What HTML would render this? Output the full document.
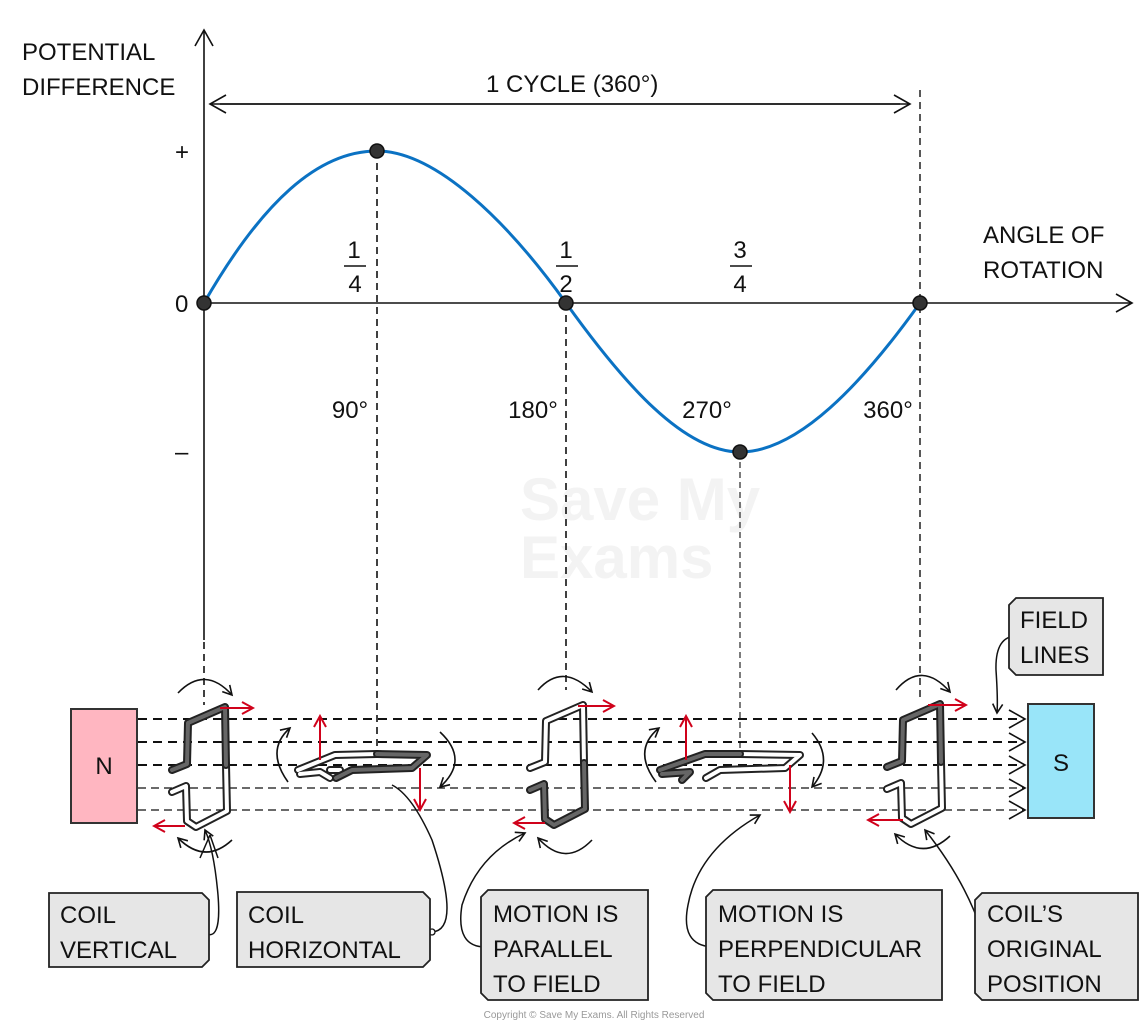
<!DOCTYPE html>
<html><head><meta charset="utf-8"><style>
html,body{margin:0;padding:0;background:#fff;}
svg{display:block;}
text{font-family:"Liberation Sans",sans-serif;fill:#111;}
</style></head><body>
<svg width="1144" height="1027" viewBox="0 0 1144 1027" xmlns="http://www.w3.org/2000/svg">
<defs>
<marker id="ah" markerWidth="12" markerHeight="12" refX="10" refY="6" orient="auto" markerUnits="userSpaceOnUse"><path d="M1,1 L10,6 L1,11" fill="none" stroke="#111" stroke-width="1.6"/></marker>
<marker id="ahb" markerWidth="20" markerHeight="20" refX="17" refY="10" orient="auto" markerUnits="userSpaceOnUse"><path d="M1,1 L17,10 L1,19" fill="none" stroke="#111" stroke-width="1.6"/></marker>
<marker id="ar" markerWidth="14" markerHeight="14" refX="12" refY="7" orient="auto" markerUnits="userSpaceOnUse"><path d="M1,1 L12,7 L1,13" fill="none" stroke="#d0021b" stroke-width="2"/></marker>
<g id="vcoilA">
<path d="M172,792 L186,786 L187,821 L196,827 L227,811 L226,765" fill="none" stroke="#222" stroke-width="8" stroke-linejoin="round" stroke-linecap="round"/>
<path d="M172,792 L186,786 L187,821 L196,827 L227,811 L226,765" fill="none" stroke="#fff" stroke-width="4" stroke-linejoin="round" stroke-linecap="round"/>
<path d="M172,770 L187,764 L188,723 L225,707 L226,765" fill="none" stroke="#222" stroke-width="8" stroke-linejoin="round" stroke-linecap="round"/>
<path d="M172,770 L187,764 L188,723 L225,707 L226,765" fill="none" stroke="#666" stroke-width="4" stroke-linejoin="round" stroke-linecap="round"/>
</g>
<g id="vcoilB">
<path d="M172,770 L187,764 L188,723 L225,707 L226,765" fill="none" stroke="#222" stroke-width="8" stroke-linejoin="round" stroke-linecap="round"/>
<path d="M172,770 L187,764 L188,723 L225,707 L226,765" fill="none" stroke="#fff" stroke-width="4" stroke-linejoin="round" stroke-linecap="round"/>
<path d="M172,792 L186,786 L187,821 L196,827 L227,811 L226,765" fill="none" stroke="#222" stroke-width="8" stroke-linejoin="round" stroke-linecap="round"/>
<path d="M172,792 L186,786 L187,821 L196,827 L227,811 L226,765" fill="none" stroke="#666" stroke-width="4" stroke-linejoin="round" stroke-linecap="round"/>
</g>
</defs>

<!-- watermark -->
<text x="520" y="520" font-size="60" font-weight="bold" fill="#f2f2f2" style="fill:#f3f3f3">Save My</text>
<text x="520" y="578" font-size="60" font-weight="bold" style="fill:#f3f3f3">Exams</text>

<!-- axes -->
<line x1="204" y1="640" x2="204" y2="30" stroke="#111" stroke-width="1.6" marker-end="url(#ahb)"/>
<line x1="204" y1="303" x2="1132" y2="303" stroke="#111" stroke-width="1.6" marker-end="url(#ahb)"/>
<line x1="204" y1="642" x2="204" y2="705" stroke="#111" stroke-width="1.6" stroke-dasharray="7,5"/>
<text x="22" y="60" font-size="24">POTENTIAL</text>
<text x="22" y="95" font-size="24">DIFFERENCE</text>
<text x="983" y="243" font-size="24">ANGLE OF</text>
<text x="983" y="278" font-size="24">ROTATION</text>
<text x="175" y="160" font-size="24">+</text>
<text x="175" y="312" font-size="24">0</text>
<text x="175" y="460" font-size="24">–</text>

<!-- cycle -->
<line x1="220" y1="104" x2="910" y2="104" stroke="#111" stroke-width="1.6" marker-end="url(#ahb)"/>
<line x1="900" y1="104" x2="210" y2="104" stroke="#111" stroke-width="1.6" marker-end="url(#ahb)"/>
<text x="486" y="92" font-size="24">1 CYCLE (360°)</text>

<!-- dashed verticals -->
<line x1="920" y1="90" x2="920" y2="700" stroke="#111" stroke-width="1.4" stroke-dasharray="7,5"/>
<line x1="377" y1="151" x2="377" y2="752" stroke="#111" stroke-width="1.6" stroke-dasharray="7,5"/>
<line x1="566" y1="303" x2="566" y2="690" stroke="#111" stroke-width="1.6" stroke-dasharray="7,5"/>
<line x1="740" y1="452" x2="740" y2="752" stroke="#111" stroke-width="1.1" stroke-dasharray="6,4"/>

<!-- sine -->
<path d="M204,303 C262,202 318,151 377,151 C436,151 508,222 566,303 C624,384 684,452 740,452 C798,452 862,384 920,303" fill="none" stroke="#0b72c3" stroke-width="3"/>
<g fill="#333" stroke="#111" stroke-width="1.5">
<circle cx="204" cy="303" r="7"/><circle cx="377" cy="151" r="7"/><circle cx="566" cy="303" r="7"/><circle cx="740" cy="452" r="7"/><circle cx="920" cy="303" r="7"/>
</g>

<!-- fractions -->
<g font-size="24" text-anchor="middle">
<text x="354" y="258">1</text><line x1="344" y1="266" x2="366" y2="266" stroke="#111" stroke-width="1.6"/><text x="355" y="292">4</text>
<text x="566" y="258">1</text><line x1="556" y1="266" x2="578" y2="266" stroke="#111" stroke-width="1.6"/><text x="566" y="292">2</text>
<text x="740" y="258">3</text><line x1="730" y1="266" x2="752" y2="266" stroke="#111" stroke-width="1.6"/><text x="740" y="292">4</text>
<text x="350" y="418">90°</text><text x="533" y="418">180°</text><text x="707" y="418">270°</text><text x="888" y="418">360°</text>
</g>

<!-- magnets -->
<rect x="71" y="709" width="66" height="114" fill="#ffb6c1" stroke="#333" stroke-width="2"/>
<text x="104" y="774" font-size="24" text-anchor="middle">N</text>
<rect x="1028" y="704" width="66" height="114" fill="#99e5f9" stroke="#333" stroke-width="2"/>
<text x="1061" y="771" font-size="24" text-anchor="middle">S</text>

<!-- field lines -->
<g stroke="#111" fill="none">
<line x1="138" y1="719" x2="1025" y2="719" stroke-width="2" stroke-dasharray="9,6" marker-end="url(#ahb)"/>
<line x1="138" y1="742" x2="1025" y2="742" stroke-width="2" stroke-dasharray="9,6" marker-end="url(#ahb)"/>
<line x1="138" y1="765" x2="1025" y2="765" stroke-width="2" stroke-dasharray="9,6" marker-end="url(#ahb)"/>
<line x1="138" y1="788" x2="1025" y2="788" stroke-width="1.3" stroke-dasharray="8,5" marker-end="url(#ahb)"/>
<line x1="138" y1="810" x2="1025" y2="810" stroke-width="1.3" stroke-dasharray="8,5" marker-end="url(#ahb)"/>
</g>

<!-- coils -->
<use href="#vcoilA"/>
<use href="#vcoilB" transform="translate(358,-2)"/>
<use href="#vcoilA" transform="translate(715,-3)"/>

<!-- horizontal coil 2 -->
<g fill="none" stroke-linejoin="round" stroke-linecap="round">
<path d="M298,770 L335,755 L377,754 M300,774 L320,772 L330,778 M330,770 L340,770" stroke="#222" stroke-width="8"/>
<path d="M298,770 L335,755 L377,754 M300,774 L320,772 L330,778 M330,770 L340,770" stroke="#fff" stroke-width="4"/>
<path d="M377,754 L427,755 L412,768 L352,770 L336,778" stroke="#222" stroke-width="8"/>
<path d="M377,754 L427,755 L412,768 L352,770 L336,778" stroke="#666" stroke-width="4"/>
<!-- coil 4 -->
<path d="M740,754 L800,755 L785,768 L720,770 L706,778" stroke="#222" stroke-width="8"/>
<path d="M740,754 L800,755 L785,768 L720,770 L706,778" stroke="#fff" stroke-width="4"/>
<path d="M660,770 L705,754 L740,754 M662,774 L690,772 L682,780" stroke="#222" stroke-width="8"/>
<path d="M660,770 L705,754 L740,754 M662,774 L690,772 L682,780" stroke="#666" stroke-width="4"/>
</g>

<!-- red arrows -->
<g stroke="#d0021b" stroke-width="2" fill="none">
<line x1="220" y1="708" x2="253" y2="708" marker-end="url(#ar)"/>
<line x1="185" y1="826" x2="154" y2="826" marker-end="url(#ar)"/>
<line x1="320" y1="760" x2="320" y2="716" marker-end="url(#ar)"/>
<line x1="420" y1="768" x2="420" y2="810" marker-end="url(#ar)"/>
<line x1="578" y1="706" x2="614" y2="706" marker-end="url(#ar)"/>
<line x1="545" y1="823" x2="514" y2="823" marker-end="url(#ar)"/>
<line x1="686" y1="760" x2="686" y2="716" marker-end="url(#ar)"/>
<line x1="790" y1="765" x2="790" y2="812" marker-end="url(#ar)"/>
<line x1="928" y1="705" x2="966" y2="705" marker-end="url(#ar)"/>
<line x1="903" y1="820" x2="868" y2="820" marker-end="url(#ar)"/>
</g>

<!-- rotation arrows -->
<g stroke="#111" stroke-width="1.6" fill="none">
<path d="M178,693 Q205,665 232,695" marker-end="url(#ah)"/>
<path d="M232,840 Q205,865 178,838" marker-end="url(#ah)"/>
<path d="M288,782 Q265,750 290,728" marker-end="url(#ah)"/>
<path d="M440,732 Q470,760 440,787" marker-end="url(#ah)"/>
<path d="M538,690 Q563,662 592,692" marker-end="url(#ah)"/>
<path d="M592,840 Q565,868 538,838" marker-end="url(#ah)"/>
<path d="M656,782 Q632,750 659,728" marker-end="url(#ah)"/>
<path d="M812,733 Q835,760 812,787" marker-end="url(#ah)"/>
<path d="M896,690 Q922,660 950,692" marker-end="url(#ah)"/>
<path d="M950,836 Q922,862 895,834" marker-end="url(#ah)"/>
</g>

<!-- callout connectors -->
<g stroke="#111" stroke-width="1.5" fill="none">
<path d="M203,932 Q222,945 218,895 Q214,850 205,830" marker-end="url(#ah)"/>
<path d="M210,835 L200,858 M210,835 L218,858"/>
<path d="M432,932 Q462,930 432,840 Q412,795 392,785" />
<path d="M487,947 Q455,948 462,905 Q478,855 525,833" marker-end="url(#ah)"/>
<path d="M712,947 Q680,945 688,905 Q698,850 760,815" marker-end="url(#ah)"/>
<path d="M982,932 Q965,880 925,830" marker-end="url(#ah)"/>
<path d="M1018,636 Q995,635 996,670 Q998,700 997,713" marker-end="url(#ah)"/>
</g>
<g fill="#fff" stroke="#111" stroke-width="1.3">
<circle cx="203" cy="932" r="3"/><circle cx="432" cy="932" r="3"/><circle cx="487" cy="947" r="3"/><circle cx="712" cy="947" r="3"/><circle cx="983" cy="933" r="3"/><circle cx="1018" cy="636" r="3"/>
</g>

<!-- label boxes -->
<g fill="#e6e6e6" stroke="#222" stroke-width="1.8">
<path d="M49,893 L202,893 L209,900 L209,960 L202,967 L49,967 Z"/>
<path d="M237,892 L423,892 L430,899 L430,960 L423,967 L237,967 Z"/>
<path d="M488,890 L648,890 L648,1000 L488,1000 L481,993 L481,897 Z"/>
<path d="M713,890 L942,890 L942,1000 L713,1000 L706,993 L706,897 Z"/>
<path d="M982,893 L1138,893 L1138,1000 L982,1000 L975,993 L975,900 Z"/>
<path d="M1016,598 L1103,598 L1103,675 L1016,675 L1009,668 L1009,605 Z"/>
</g>
<g font-size="24">
<text x="60" y="923">COIL</text><text x="60" y="958">VERTICAL</text>
<text x="248" y="923">COIL</text><text x="248" y="958">HORIZONTAL</text>
<text x="493" y="922">MOTION IS</text><text x="493" y="957">PARALLEL</text><text x="493" y="992">TO FIELD</text>
<text x="718" y="922">MOTION IS</text><text x="718" y="957">PERPENDICULAR</text><text x="718" y="992">TO FIELD</text>
<text x="987" y="922">COIL’S</text><text x="987" y="957">ORIGINAL</text><text x="987" y="992">POSITION</text>
<text x="1020" y="628">FIELD</text><text x="1020" y="663">LINES</text>
</g>
<text x="594" y="1018" font-size="10" text-anchor="middle" style="fill:#999">Copyright © Save My Exams. All Rights Reserved</text>
</svg>
</body></html>
